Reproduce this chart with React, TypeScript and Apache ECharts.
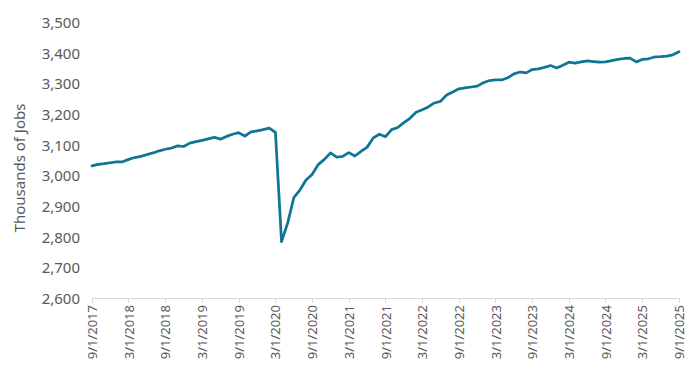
import React, { useEffect, useRef } from "react";
import * as echarts from "echarts";

// Monthly categories from 9/1/2017 through 9/1/2025
const START_YEAR = 2017;
const START_MONTH = 9;
const MONTH_COUNT = 97;
const categories: string[] = [];
for (let k = 0; k < MONTH_COUNT; k++) {
  const m0 = START_MONTH - 1 + k;
  const y = START_YEAR + Math.floor(m0 / 12);
  const m = (m0 % 12) + 1;
  categories.push(`${m}/1/${y}`);
}

// Thousands of jobs
const jobs2017to2019 = [
  3031, 3036, 3038, 3041, 3044, 3044, 3052, 3058, 3062, 3068, 3073, 3080,
  3085, 3089, 3096, 3094, 3105, 3110, 3114, 3119, 3124, 3118, 3127, 3134,
];
const jobs2019to2021 = [
  3139, 3128, 3142, 3145, 3149, 3154, 3140, 2784, 2844, 2927, 2952, 2985,
  3003, 3035, 3052, 3073, 3059, 3062, 3074, 3063, 3078, 3092, 3122, 3134,
];
const jobs2021to2023 = [
  3126, 3149, 3156, 3172, 3186, 3206, 3214, 3223, 3236, 3241, 3262, 3272,
  3282, 3285, 3288, 3291, 3302, 3309, 3311, 3311, 3318, 3331, 3337, 3334,
];
const jobs2023to2025 = [
  3345, 3347, 3352, 3358, 3350, 3359, 3369, 3366, 3370, 3373, 3371, 3369,
  3370, 3374, 3378, 3381, 3382, 3370, 3378, 3380, 3386, 3387, 3389, 3393,
  3403,
];
const jobs = [...jobs2017to2019, ...jobs2019to2021, ...jobs2021to2023, ...jobs2023to2025];

const yTicks = { min: 2600, max: 3500, interval: 100 };
const yAxisTitle = "Thousands of Jobs";

export default function App() {
  const ref = useRef<HTMLDivElement>(null);
  useEffect(() => {
    if (!ref.current) return;
    const chart = echarts.init(ref.current, null, { renderer: "svg" });
    const font = "Noto Sans";
    chart.setOption({
      animation: false,
      backgroundColor: "#ffffff",
      grid: { left: 92, right: 21, top: 22, bottom: 93, containLabel: false },
      xAxis: {
        type: "category",
        data: categories,
        boundaryGap: false,
        axisLine: { show: true, lineStyle: { color: "#d9d9d9", width: 1 } },
        axisTick: { show: true, interval: 5, length: 5, lineStyle: { color: "#d9d9d9" } },
        axisLabel: {
          interval: 5,
          rotate: 90,
          margin: 7,
          color: "#595959",
          fontSize: 13,
          fontFamily: font,
        },
        splitLine: { show: false },
      },
      yAxis: {
        type: "value",
        min: yTicks.min,
        max: yTicks.max,
        interval: yTicks.interval,
        axisLine: { show: false },
        axisTick: { show: false },
        splitLine: { show: false },
        axisLabel: {
          margin: 12,
          color: "#595959",
          fontSize: 15,
          fontFamily: font,
          formatter: (v: number) => v.toLocaleString("en-US"),
        },
      },
      graphic: [
        {
          type: "text",
          x: 19,
          y: 168,
          rotation: Math.PI / 2,
          style: {
            text: yAxisTitle,
            fill: "#595959",
            fontSize: 15,
            fontFamily: font,
            textAlign: "center",
            textVerticalAlign: "middle",
          },
        },
      ],
      series: [
        {
          type: "line",
          data: jobs,
          showSymbol: false,
          symbol: "none",
          lineStyle: { color: "#0e7596", width: 2.75, join: "round", cap: "round" },
        },
      ],
    });
    return () => chart.dispose();
  }, []);
  return (
    <div
      ref={ref}
      style={{ position: "fixed", left: 0, top: 0, width: 700, height: 391, background: "#fff" }}
    />
  );
}
